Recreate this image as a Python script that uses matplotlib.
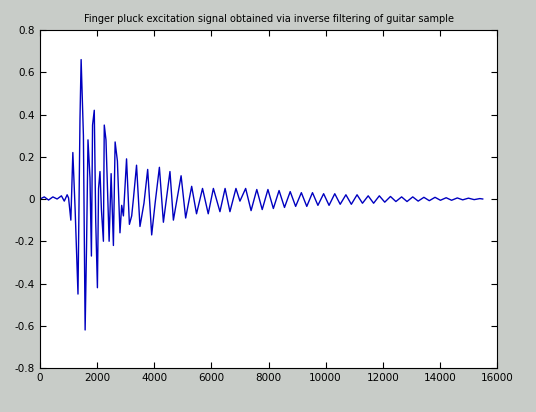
import matplotlib
matplotlib.use("Agg")
import matplotlib.pyplot as plt

# extrema (sample index, amplitude)
early_x = [0, 150, 300, 450, 600, 750, 850, 950, 1000, 1080, 1150, 1230, 1330, 1400, 1440, 1520, 1580,
           1630, 1680, 1750, 1800, 1840, 1900, 1950, 2010, 2050, 2100, 2150, 2220, 2250, 2310, 2420,
           2490, 2570, 2630, 2710, 2800, 2860, 2920, 3030, 3130, 3210, 3270, 3380, 3500, 3640, 3770,
           3910, 4030, 4180, 4320, 4550, 4670, 4940, 5100, 5310, 5480, 5690, 5890, 6070, 6300, 6480, 6650, 6860, 7000]
early_y = [0.0, 0.01, -0.005, 0.01, 0.0, 0.015, -0.01, 0.02, 0.005, -0.1, 0.22, -0.05, -0.45, 0.38, 0.66,
           0.3, -0.62, -0.22, 0.28, 0.1, -0.27, 0.35, 0.42, -0.1, -0.42, 0.05, 0.13, -0.05, -0.2, 0.35,
           0.28, -0.2, 0.12, -0.22, 0.27, 0.18, -0.16, -0.03, -0.08, 0.19, -0.12, -0.08, 0.0, 0.16,
           -0.13, -0.02, 0.14, -0.17, -0.02, 0.15, -0.11, 0.13, -0.1, 0.11, -0.09, 0.06, -0.07, 0.05,
           -0.07, 0.05, -0.06, 0.05, -0.06, 0.05, -0.01]
late_x = [7200, 7390, 7590, 7780, 7980, 8170, 8370, 8560, 8760, 8950, 9150, 9340, 9540, 9730, 9930,
          10120, 10320, 10510, 10710, 10900, 11100, 11290, 11490, 11680, 11880, 12070, 12270, 12460,
          12660, 12850, 13050, 13240, 13440, 13630, 13830, 14020, 14220, 14410, 14610, 14800, 15000,
          15200, 15400, 15500]
late_y = [0.05, -0.055, 0.045, -0.05, 0.045, -0.045, 0.04, -0.04, 0.035, -0.035, 0.03, -0.035, 0.03,
          -0.03, 0.025, -0.03, 0.025, -0.025, 0.02, -0.025, 0.02, -0.02, 0.015, -0.02, 0.015, -0.015,
          0.012, -0.012, 0.01, -0.012, 0.01, -0.01, 0.008, -0.008, 0.008, -0.006, 0.006, -0.006, 0.005,
          -0.004, 0.004, -0.003, 0.002, 0.0]

xs = early_x + late_x
ys = early_y + late_y

fig = plt.figure(figsize=(5.36, 4.12), dpi=100, facecolor="#c8ccc8")
ax = fig.add_axes([40/536, 1-368/412, 457/536, 338/412])
ax.plot(xs, ys, color="#0000c0", lw=1)
ax.set_xlim(0, 16000)
ax.set_ylim(-0.8, 0.8)
ax.set_xticks(range(0, 16001, 2000))
ax.set_yticks([-0.8, -0.6, -0.4, -0.2, 0, 0.2, 0.4, 0.6, 0.8])
ax.set_yticklabels(["-0.8", "-0.6", "-0.4", "-0.2", "0", "0.2", "0.4", "0.6", "0.8"])
ax.tick_params(labelsize=7.5, direction="in", length=4, top=True, right=True)
ax.set_title("Finger pluck excitation signal obtained via inverse filtering of guitar sample", fontsize=7)
fig.savefig("out.png", dpi=100, facecolor=fig.get_facecolor())
